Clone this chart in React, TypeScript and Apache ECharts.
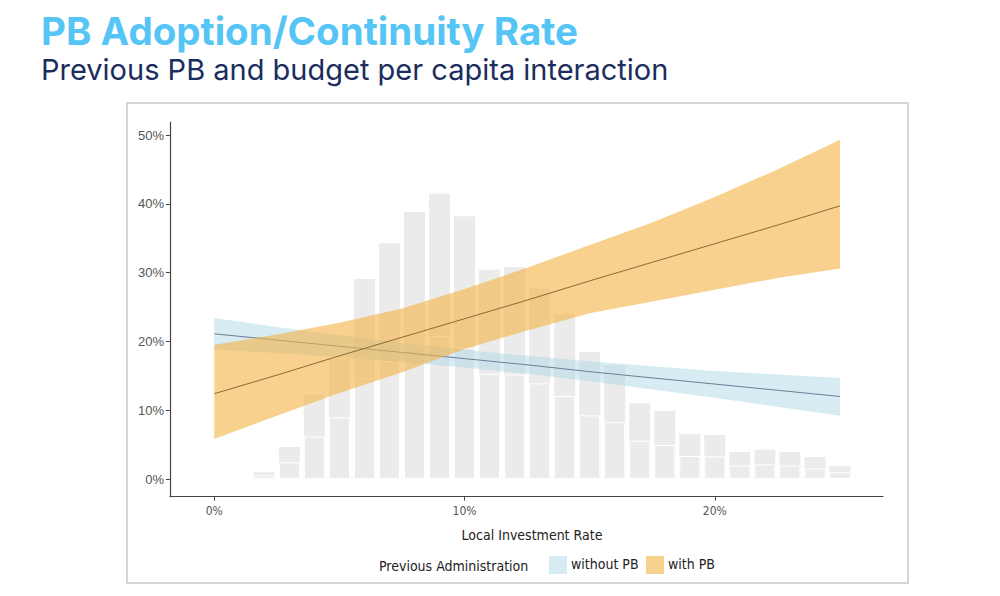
import React, { useEffect, useRef } from "react";
import * as echarts from "echarts";

// Histogram of local investment rate (1% bins), two stacked groups
const binCenters = [2, 3, 4, 5, 6, 7, 8, 9, 10, 11, 12, 13, 14, 15, 16, 17, 18, 19, 20, 21, 22, 23, 24, 25];
const barTotal = [1.0, 4.65, 12.26, 17.5, 29.07, 34.25, 38.8, 41.47, 38.2, 30.4, 30.8, 27.7, 24.0, 18.46, 16.57, 11.0, 9.88, 6.54, 6.4, 3.92, 4.26, 3.92, 3.2, 1.89];
const barLower = [0.5, 2.42, 6.15, 8.96, 14.7, 17.15, 19.4, 20.8, 19.1, 15.3, 15.2, 13.9, 12.06, 9.25, 8.28, 5.57, 4.94, 3.34, 3.29, 1.94, 2.13, 1.94, 1.55, 0.97];

// Predicted rate and confidence ribbons
const bandX = [0, 2.5, 5, 7.5, 10, 12.5, 15, 17.5, 20, 22.5, 25];
const withPBMean = [12.4, 15.1, 17.9, 20.6, 23.3, 26.0, 28.8, 31.5, 34.2, 36.9, 39.7];
const withPBLow = [5.8, 9.2, 12.5, 15.5, 18.9, 21.6, 24.1, 25.8, 27.5, 29.2, 30.6];
const withPBHigh = [19.5, 21.0, 22.7, 24.8, 27.6, 30.7, 34.0, 37.3, 41.0, 45.0, 49.3];
const withoutPBMean = [21.1, 20.2, 19.3, 18.4, 17.5, 16.6, 15.6, 14.7, 13.8, 12.9, 12.0];
const withoutPBLow = [18.8, 18.3, 17.7, 17.0, 16.2, 15.3, 14.2, 13.0, 11.8, 10.5, 9.2];
const withoutPBHigh = [23.4, 22.1, 20.9, 19.8, 18.8, 17.9, 17.1, 16.4, 15.7, 15.2, 14.7];

const xTicks = [0, 10, 20];
const yTicks = [0, 10, 20, 30, 40, 50];

const BLUE_FILL = "rgba(173,216,230,0.5)";
const ORANGE_FILL = "rgba(245,178,66,0.6)";
const BAR_GREY = "#EBEBEB";
const SANS = "'Liberation Sans', Arial, sans-serif";
const NARROW = "'Liberation Sans Narrow', 'DejaVu Sans Condensed', 'Noto Sans', sans-serif";
const TITLE_FONT = "Inter, 'Noto Sans', sans-serif";

function bandSeries(name: string, lo: number[], hi: number[], color: string, z: number) {
  return {
    type: "custom",
    name,
    z,
    silent: true,
    clip: true,
    data: bandX.map((x, i) => [x, lo[i], hi[i]]),
    encode: { x: 0, y: [1, 2] },
    renderItem: (params: any, api: any) => {
      if (params.dataIndex !== 0) return null;
      const pts: number[][] = [];
      for (let i = 0; i < bandX.length; i++) pts.push(api.coord([bandX[i], hi[i]]));
      for (let i = bandX.length - 1; i >= 0; i--) pts.push(api.coord([bandX[i], lo[i]]));
      return { type: "polygon", shape: { points: pts }, style: { fill: color } };
    },
  };
}

function lineSeries(name: string, vals: number[], color: string, z: number) {
  return {
    type: "line",
    name,
    z,
    silent: true,
    showSymbol: false,
    symbol: "none",
    data: bandX.map((x, i) => [x, vals[i]]),
    lineStyle: { color, width: 1 },
  };
}

export default function App() {
  const ref = useRef<HTMLDivElement>(null);
  useEffect(() => {
    if (!ref.current) return;
    const chart = echarts.init(ref.current, null, { renderer: "svg" });
    chart.setOption({
      animation: false,
      backgroundColor: "#ffffff",
      grid: { left: 170, top: 122, width: 713, height: 374.7, containLabel: false },
      xAxis: {
        type: "value",
        min: -1.77,
        max: 26.72,
        splitLine: { show: false },
        axisLine: { show: true, onZero: false, lineStyle: { color: "#444", width: 1.2 } },
        axisTick: { show: true, length: 4, lineStyle: { color: "#444" }, customValues: xTicks },
        axisLabel: {
          customValues: xTicks,
          formatter: (v: number) => `${v}%`,
          color: "#555",
          fontSize: 12,
          fontFamily: NARROW,
          margin: 8,
        },
      },
      yAxis: {
        type: "value",
        min: -2.57,
        max: 51.89,
        splitLine: { show: false },
        axisLine: { show: true, onZero: false, lineStyle: { color: "#444", width: 1.2 } },
        axisTick: { show: true, length: 4, lineStyle: { color: "#444" }, customValues: yTicks },
        axisLabel: {
          customValues: yTicks,
          formatter: (v: number) => `${v}%`,
          color: "#555",
          fontSize: 13,
          fontFamily: SANS,
          margin: 6,
        },
      },
      series: [
        {
          type: "bar",
          name: "total",
          z: 1,
          silent: true,
          barWidth: 21,
          barGap: "-100%",
          data: binCenters.map((x, i) => [x, barTotal[i]]),
          itemStyle: { color: BAR_GREY },
        },
        {
          type: "bar",
          name: "lower",
          z: 1,
          silent: true,
          barWidth: 21,
          barGap: "-100%",
          data: binCenters.map((x, i) => [x, barLower[i]]),
          itemStyle: { color: BAR_GREY, borderColor: "#ffffff", borderWidth: 1 },
        },
        bandSeries("without PB", withoutPBLow, withoutPBHigh, BLUE_FILL, 2),
        lineSeries("without PB mean", withoutPBMean, "#6E7D96", 3),
        bandSeries("with PB", withPBLow, withPBHigh, ORANGE_FILL, 4),
        lineSeries("with PB mean", withPBMean, "#8C6A32", 5),
      ],
      graphic: [
        {
          type: "rect",
          shape: { x: 127, y: 103, width: 781, height: 480 },
          style: { fill: "none", stroke: "#C8C8C8", lineWidth: 1.5 },
          z: 0,
        },
        {
          type: "text",
          x: 41,
          y: 31,
          style: {
            text: "PB Adoption/Continuity Rate",
            fill: "#55C5F5",
            font: `bold 38.5px ${TITLE_FONT}`,
            lineHeight: 38,
            textVerticalAlign: "middle",
          },
        },
        {
          type: "text",
          x: 41,
          y: 69,
          style: {
            text: "Previous PB and budget per capita interaction",
            fill: "#1B2D5E",
            font: `29px ${TITLE_FONT}`,
            lineHeight: 29,
            textVerticalAlign: "middle",
          },
        },
        {
          type: "text",
          x: 532,
          y: 535,
          style: {
            text: "Local Investment Rate",
            fill: "#222",
            font: `14px ${NARROW}`,
            textAlign: "center",
            textVerticalAlign: "middle",
          },
        },
        {
          type: "text",
          x: 379,
          y: 566,
          style: {
            text: "Previous Administration",
            fill: "#222",
            font: `14px ${NARROW}`,
            textVerticalAlign: "middle",
          },
        },
        {
          type: "rect",
          shape: { x: 549, y: 556, width: 18, height: 18 },
          style: { fill: BLUE_FILL },
        },
        {
          type: "text",
          x: 571,
          y: 564,
          style: { text: "without PB", fill: "#222", font: `14px ${NARROW}`, textVerticalAlign: "middle" },
        },
        {
          type: "rect",
          shape: { x: 646, y: 556, width: 18, height: 18 },
          style: { fill: ORANGE_FILL },
        },
        {
          type: "text",
          x: 668,
          y: 564,
          style: { text: "with PB", fill: "#222", font: `14px ${NARROW}`, textVerticalAlign: "middle" },
        },
      ],
    });
    return () => chart.dispose();
  }, []);
  return (
    <div
      ref={ref}
      style={{ position: "absolute", left: 0, top: 0, width: 1000, height: 596, background: "#fff" }}
    />
  );
}
